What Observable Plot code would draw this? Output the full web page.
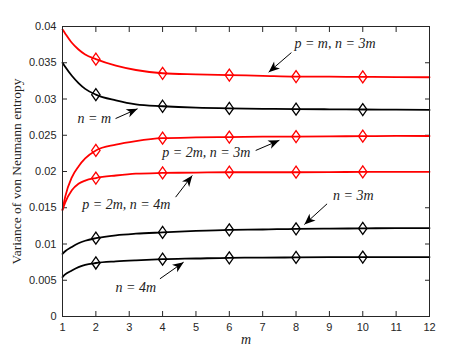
<!DOCTYPE html>
<html><head><meta charset="utf-8">
<script src="https://cdn.jsdelivr.net/npm/d3@7"></script>
<script src="https://cdn.jsdelivr.net/npm/@observablehq/plot@0.6"></script>
<style>body{margin:0;background:#fff;} svg{display:block;}</style>
</head><body><div id="chart"></div>
<script>
const mValues = [1, 1.08, 1.28, 1.48, 1.68, 2, 2.6, 3.2, 4, 5, 6, 7, 8, 9, 10, 11, 12];
const pmN3m   = [0.0396, 0.03905, 0.03776, 0.03683, 0.03614, 0.0355, 0.0346, 0.0340, 0.03355, 0.0334, 0.0333, 0.0332, 0.0331, 0.03308, 0.03305, 0.03302, 0.0330];
const nm      = [0.0350, 0.03445, 0.0332, 0.0322, 0.0314, 0.0306, 0.0298, 0.02925, 0.0290, 0.0288, 0.0287, 0.02865, 0.0286, 0.02858, 0.02855, 0.02853, 0.0285];
const p2mN3m  = [0.0147, 0.0165, 0.0192, 0.0207, 0.0218, 0.0229, 0.0237, 0.0242, 0.0246, 0.0247, 0.02475, 0.0248, 0.02482, 0.02485, 0.02487, 0.0249, 0.0249];
const p2mN4m  = [0.0147, 0.0157, 0.0174, 0.0183, 0.01875, 0.0191, 0.01945, 0.0197, 0.0198, 0.01985, 0.0199, 0.0199, 0.0199, 0.01992, 0.01994, 0.01995, 0.01995];
const n3m     = [0.00865, 0.0090, 0.0096, 0.0101, 0.01045, 0.0108, 0.0112, 0.01142, 0.0116, 0.0118, 0.01195, 0.0120, 0.0121, 0.01212, 0.01215, 0.0122, 0.0122];
const n4m     = [0.00543, 0.0058, 0.00634, 0.0068, 0.00713, 0.00738, 0.0076, 0.00775, 0.0079, 0.0080, 0.0081, 0.00812, 0.00815, 0.00818, 0.0082, 0.0082, 0.0082];
const markerM = [2, 4, 6, 8, 10];
const xTicks = [1,2,3,4,5,6,7,8,9,10,11,12];
const yTicks = [0, 0.005, 0.01, 0.015, 0.02, 0.025, 0.03, 0.035, 0.04];
const yTickLabels = ["0","0.005","0.01","0.015","0.02","0.025","0.03","0.035","0.04"];
const xLabel = "m";
const yLabel = "Variance of von Neumann entropy";
const series = [
  {name: "p=m,n=3m", color: "#ff0000", values: pmN3m},
  {name: "n=m", color: "#000000", values: nm},
  {name: "p=2m,n=3m", color: "#ff0000", values: p2mN3m},
  {name: "p=2m,n=4m", color: "#ff0000", values: p2mN4m},
  {name: "n=3m", color: "#000000", values: n3m},
  {name: "n=4m", color: "#000000", values: n4m}
];
// annotation: label position (tx,ty) and arrow from (x1,y1) to (x2,y2) in data units
const annotations = [
  {label: "p = m, n = 3m",  tx: 7.95, ty: 0.0377, x1: 7.86, y1: 0.0364, x2: 7.18, y2: 0.0337},
  {label: "n = m",          tx: 1.45, ty: 0.0273, x1: 2.59, y1: 0.0273, x2: 3.25, y2: 0.02865},
  {label: "p = 2m, n = 3m", tx: 3.99, ty: 0.02266, x1: 6.79, y1: 0.0229, x2: 7.5, y2: 0.0243},
  {label: "p = 2m, n = 4m", tx: 1.59, ty: 0.01545, x1: 4.39, y1: 0.01646, x2: 4.89, y2: 0.01945},
  {label: "n = 3m",         tx: 9.11, ty: 0.01669, x1: 8.93, y1: 0.01554, x2: 8.25, y2: 0.01269},
  {label: "n = 4m",         tx: 2.59, ty: 0.00404, x1: 3.92, y1: 0.0052, x2: 4.63, y2: 0.00749}
];

const W = 474, H = 355, mL = 62, mR = 45, mT = 26, mB = 39;
const lineRows = series.flatMap(s => mValues.map((m, i) => ({name: s.name, color: s.color, m, v: s.values[i]})));
const markRows = lineRows.filter(d => markerM.includes(d.m));

const sx = Plot.scale({x: {domain: [1, 12], range: [mL, W - mR]}});
const sy = Plot.scale({y: {domain: [0, 0.04], range: [H - mB, mT]}});
const heads = annotations.map(a => {
  const dx = sx.apply(a.x2) - sx.apply(a.x1);
  const dy = sy.apply(a.y2) - sy.apply(a.y1);
  return {...a, angle: Math.atan2(dx, -dy) * 180 / Math.PI};
});

const diamond = {draw(ctx) { ctx.moveTo(0, -6); ctx.lineTo(4.2, 0); ctx.lineTo(0, 6); ctx.lineTo(-4.2, 0); ctx.closePath(); }};
const arrowHead = {draw(ctx) { ctx.moveTo(0, 0); ctx.lineTo(-4.5, 11); ctx.lineTo(0, 8); ctx.lineTo(4.5, 11); ctx.closePath(); }};

const serif = "Liberation Serif, Times New Roman, serif";
const chart = Plot.plot({
  width: W, height: H,
  marginLeft: mL, marginRight: mR, marginTop: mT, marginBottom: mB,
  style: {background: "#fff", color: "#262626", fontFamily: "Liberation Sans, Arial, sans-serif", fontSize: "11px"},
  x: {domain: [1, 12]},
  y: {domain: [0, 0.04]},
  marks: [
    Plot.axisX({anchor: "bottom", ticks: xTicks, tickSize: -5, tickPadding: 12, fontSize: 11, label: null, stroke: "#262626", fill: "#262626"}),
    Plot.axisX({anchor: "top", ticks: xTicks, tickSize: -5, tickFormat: () => "", label: null, stroke: "#262626"}),
    Plot.axisY({anchor: "left", ticks: yTicks, tickSize: -5, tickPadding: 11, fontSize: 11, tickFormat: d => yTickLabels[yTicks.indexOf(d)], label: null, stroke: "#262626", fill: "#262626"}),
    Plot.axisY({anchor: "right", ticks: yTicks, tickSize: -5, tickFormat: () => "", label: null, stroke: "#262626"}),
    Plot.line(lineRows, {x: "m", y: "v", z: "name", stroke: "color", strokeWidth: 1.8, curve: "monotone-x"}),
    Plot.dot(markRows, {x: "m", y: "v", stroke: "color", symbol: diamond, strokeWidth: 1.3, fill: "none"}),
    Plot.frame({stroke: "#262626", strokeWidth: 1}),
    Plot.link(heads, {x1: "x1", y1: "y1", x2: "x2", y2: "y2", stroke: "#000", strokeWidth: 1}),
    Plot.dot(heads, {x: "x2", y: "y2", symbol: arrowHead, rotate: "angle", fill: "#000", stroke: "none"}),
    Plot.text(annotations, {x: "tx", y: "ty", text: "label", textAnchor: "start", fontFamily: serif, fontStyle: "italic", fontSize: 14, fill: "#222"}),
    Plot.text([xLabel], {frameAnchor: "bottom", dy: 27, textAnchor: "middle", fontFamily: serif, fontStyle: "italic", fontSize: 14, fill: "#222"}),
    Plot.text([yLabel], {frameAnchor: "left", dx: -46, rotate: -90, textAnchor: "middle", fontFamily: serif, fontSize: 13.5, fill: "#222"})
  ]
});
document.getElementById("chart").appendChild(chart);
</script>
</body></html>
